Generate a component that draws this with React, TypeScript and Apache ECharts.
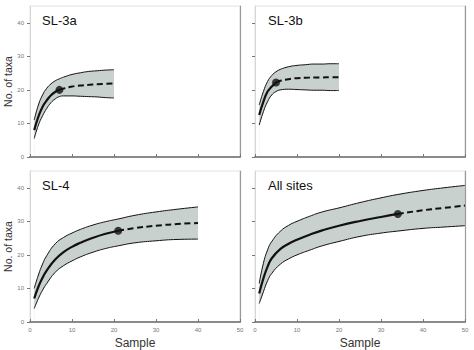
import React, { useEffect, useRef } from "react";
import * as echarts from "echarts";

// ---- Data ----
const panelTitles = ["SL-3a", "SL-3b", "SL-4", "All sites"];
const yTickValues = [0, 10, 20, 30, 40];
const xTickValues = [0, 10, 20, 30, 40, 50];

// SL-3a
const samples3a = [1, 2, 3, 4, 5, 6, 7, 8, 10, 12, 14, 16, 18, 20];
const mean3a = [8, 12, 15, 16.9, 18.4, 19.4, 20, 20.4, 21, 21.3, 21.5, 21.7, 21.8, 21.9];
const upper3a = [11, 15.5, 18.5, 20.5, 21.8, 22.7, 23.3, 23.8, 24.6, 25.1, 25.5, 25.7, 25.9, 26];
const lower3a = [5.5, 9.5, 12.3, 14.5, 16.2, 17.3, 18, 18.2, 18.2, 18.1, 18, 17.9, 17.7, 17.6];
const observed3a = 7;

// SL-3b
const samples3b = [1, 2, 3, 4, 5, 6, 8, 10, 12, 14, 16, 18, 20];
const mean3b = [12.5, 16.5, 19.5, 21, 22.2, 22.7, 23.2, 23.5, 23.6, 23.7, 23.7, 23.8, 23.8];
const upper3b = [15.5, 19.5, 22.5, 24.3, 25.4, 26.1, 26.9, 27.3, 27.5, 27.7, 27.7, 27.8, 27.8];
const lower3b = [9.5, 13.5, 16.5, 18.5, 19.5, 20, 20.2, 20.1, 20, 19.9, 19.9, 19.8, 19.8];
const observed3b = 5;

// SL-4
const samples4 = [1, 2, 3, 4, 6, 8, 10, 12, 15, 18, 21, 25, 30, 35, 40];
const mean4 = [7, 10.5, 13.2, 15.4, 18.6, 20.8, 22.4, 23.6, 25.1, 26.3, 27.2, 28, 28.7, 29.2, 29.5];
const upper4 = [10, 14, 17.3, 19.8, 23.3, 25.2, 26.5, 27.6, 28.9, 29.9, 30.7, 31.8, 32.8, 33.6, 34.3];
const lower4 = [4, 7, 9.5, 11.5, 14.8, 16.8, 18.2, 19.4, 20.8, 21.9, 22.7, 23.6, 24.2, 24.6, 24.7];
const observed4 = 21;

// All sites
const samplesAll = [1, 2, 3, 4, 6, 8, 10, 13, 16, 20, 25, 30, 34, 40, 45, 50];
const meanAll = [8.5, 13, 16.5, 19, 21.7, 23.3, 24.5, 26, 27.3, 28.7, 30.1, 31.3, 32.2, 33.3, 34, 34.7];
const upperAll = [11.5, 17.5, 21.5, 24, 27, 28.8, 30, 31.5, 32.8, 34, 35.6, 37, 38, 39.2, 40, 40.7];
const lowerAll = [5.5, 9, 12.3, 14.5, 17.2, 18.8, 20, 21.4, 22.7, 24, 25.5, 26.5, 27.1, 27.9, 28.3, 28.7];
const observedAll = 34;

const panelSamples = [samples3a, samples3b, samples4, samplesAll];
const panelMeans = [mean3a, mean3b, mean4, meanAll];
const panelUppers = [upper3a, upper3b, upper4, upperAll];
const panelLowers = [lower3a, lower3b, lower4, lowerAll];
const panelObserved = [observed3a, observed3b, observed4, observedAll];

// ---- Layout ----
const FONT = "Liberation Sans, Arial, sans-serif";
const gridBoxes = [
  { left: 30, top: 6, width: 210, height: 151 },
  { left: 255, top: 6, width: 210, height: 151 },
  { left: 30, top: 171, width: 210, height: 151 },
  { left: 255, top: 171, width: 210, height: 151 },
];
const titlePos = [
  { left: 37, top: 9 },
  { left: 263, top: 9 },
  { left: 37, top: 174 },
  { left: 263, top: 174 },
];
const BAND = "#c8d1cd";
const INK = "#111111";

function buildOption() {
  const grid: any[] = [];
  const xAxis: any[] = [];
  const yAxis: any[] = [];
  const series: any[] = [];
  const title: any[] = [];

  for (let i = 0; i < 4; i++) {
    const isLeft = i % 2 === 0;
    const isBottom = i >= 2;
    grid.push({
      ...gridBoxes[i],
      show: true,
      borderColor: "#e2e2e2",
      borderWidth: 1,
      containLabel: false,
    });
    title.push({
      text: panelTitles[i],
      ...titlePos[i],
      textStyle: { fontFamily: FONT, fontSize: 13, fontWeight: "normal", color: INK },
    });
    xAxis.push({
      type: "value",
      gridIndex: i,
      min: 0,
      max: 50,
      interval: 10,
      z: 5,
      axisLine: { show: true, lineStyle: { color: "#8a8a8a", width: 2 } },
      axisTick: { show: true, inside: true, length: 3, lineStyle: { color: "#777", width: 1 } },
      axisLabel: {
        show: isBottom,
        fontFamily: FONT,
        fontSize: 6,
        color: "#777",
        margin: 5,
        customValues: xTickValues,
      },
      splitLine: { show: false },
      name: isBottom ? "Sample" : "",
      nameLocation: "middle",
      nameGap: 15,
      nameTextStyle: { fontFamily: FONT, fontSize: 12, color: "#333" },
    });
    yAxis.push({
      type: "value",
      gridIndex: i,
      min: 0,
      max: 45,
      position: "left",
      z: 5,
      axisLine: { show: true, lineStyle: { color: "#d6d6d6", width: 1 } },
      axisTick: { show: true, length: 3, lineStyle: { color: "#777" }, customValues: yTickValues },
      axisLabel: {
        show: isLeft,
        fontFamily: FONT,
        fontSize: 6,
        color: "#777",
        margin: 6,
        customValues: yTickValues,
      },
      splitLine: { show: false },
      name: isLeft ? "No. of taxa" : "",
      nameLocation: "middle",
      nameRotate: 90,
      nameGap: 17,
      nameTextStyle: { fontFamily: FONT, fontSize: 10.5, color: "#333" },
    });
    yAxis.push({
      type: "value",
      gridIndex: i,
      min: 0,
      max: 45,
      position: "right",
      z: 5,
      axisLine: { show: true, lineStyle: { color: "#9a9a9a", width: 1.2 } },
      axisTick: { show: false },
      axisLabel: { show: false },
      splitLine: { show: false },
    });

    const s = panelSamples[i];
    const mean = panelMeans[i];
    const up = panelUppers[i];
    const lo = panelLowers[i];
    const obs = panelObserved[i];
    const obsIdx = s.indexOf(obs);
    const common = {
      type: "line",
      xAxisIndex: i,
      yAxisIndex: i * 2,
      showSymbol: false,
      symbol: "none",
      smooth: 0.5,
      silent: true,
    };
    // upper bound: filled down to just above the axis with the band colour
    series.push({
      ...common,
      name: "upper" + i,
      data: s.map((x, k) => [x, up[k]]),
      lineStyle: { color: INK, width: 1 },
      areaStyle: { color: BAND, opacity: 1, origin: 0.6 },
      z: 2,
    });
    // lower bound: white fill beneath it leaves only the band between bounds
    series.push({
      ...common,
      name: "lower" + i,
      data: s.map((x, k) => [x, lo[k]]),
      lineStyle: { color: INK, width: 1 },
      areaStyle: { color: "#ffffff", opacity: 1, origin: 0.6 },
      z: 2,
    });
    series.push({
      ...common,
      name: "rarefied" + i,
      data: s.slice(0, obsIdx + 1).map((x, k) => [x, mean[k]]),
      lineStyle: { color: INK, width: 2.2 },
      z: 3,
    });
    series.push({
      ...common,
      name: "extrapolated" + i,
      data: s.slice(obsIdx).map((x, k) => [x, mean[obsIdx + k]]),
      lineStyle: { color: INK, width: 2, type: [6, 3.5] },
      z: 3,
    });
    series.push({
      type: "scatter",
      xAxisIndex: i,
      yAxisIndex: i * 2,
      data: [[obs, mean[obsIdx]]],
      symbol: "circle",
      symbolSize: 8,
      itemStyle: { color: INK },
      silent: true,
      z: 4,
    });
  }

  return {
    animation: false,
    backgroundColor: "#ffffff",
    title,
    grid,
    xAxis,
    yAxis,
    series,
  };
}

export default function App() {
  const ref = useRef<HTMLDivElement>(null);
  useEffect(() => {
    if (!ref.current) return;
    const chart = echarts.init(ref.current, undefined, { renderer: "svg" });
    chart.setOption(buildOption() as any);
    return () => chart.dispose();
  }, []);
  return (
    <div
      ref={ref}
      style={{ position: "fixed", left: 0, top: 0, width: 474, height: 350, background: "#fff" }}
    />
  );
}
